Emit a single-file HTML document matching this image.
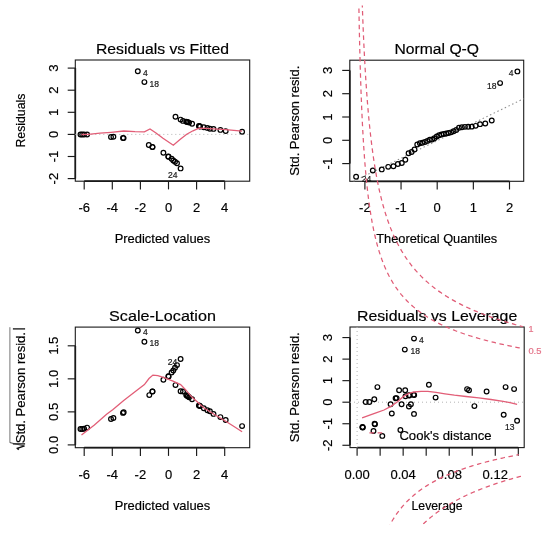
<!DOCTYPE html>
<html lang="en">
<head>
<meta charset="utf-8">
<title>Diagnostic plots</title>
<style>html,body{margin:0;padding:0;background:#fff}svg{display:block}</style>
</head>
<body>
<svg width="550" height="533" viewBox="0 0 550 533" font-family="'Liberation Sans', Arial, Helvetica, sans-serif">
<rect width="550" height="533" fill="#fff"/>
<g id="p1">
<rect x="75.3" y="60" width="174.4" height="121.2" fill="none" stroke="#1a1a1a" stroke-width="1.1"/>
<line x1="84.2" y1="181.2" x2="224.7" y2="181.2" stroke="#1a1a1a" stroke-width="1.7"/>
<line x1="84.2" y1="181.2" x2="84.2" y2="189.4" stroke="#1a1a1a" stroke-width="1.15"/>
<line x1="112.3" y1="181.2" x2="112.3" y2="189.4" stroke="#1a1a1a" stroke-width="1.15"/>
<line x1="140.4" y1="181.2" x2="140.4" y2="189.4" stroke="#1a1a1a" stroke-width="1.15"/>
<line x1="168.5" y1="181.2" x2="168.5" y2="189.4" stroke="#1a1a1a" stroke-width="1.15"/>
<line x1="196.6" y1="181.2" x2="196.6" y2="189.4" stroke="#1a1a1a" stroke-width="1.15"/>
<line x1="224.7" y1="181.2" x2="224.7" y2="189.4" stroke="#1a1a1a" stroke-width="1.15"/>
<text x="84.2" y="212.3" font-size="13" text-anchor="middle" fill="#000" stroke="#000" stroke-width="0.18">-6</text>
<text x="112.3" y="212.3" font-size="13" text-anchor="middle" fill="#000" stroke="#000" stroke-width="0.18">-4</text>
<text x="140.4" y="212.3" font-size="13" text-anchor="middle" fill="#000" stroke="#000" stroke-width="0.18">-2</text>
<text x="168.5" y="212.3" font-size="13" text-anchor="middle" fill="#000" stroke="#000" stroke-width="0.18">0</text>
<text x="196.6" y="212.3" font-size="13" text-anchor="middle" fill="#000" stroke="#000" stroke-width="0.18">2</text>
<text x="224.7" y="212.3" font-size="13" text-anchor="middle" fill="#000" stroke="#000" stroke-width="0.18">4</text>
<line x1="75.3" y1="178.6" x2="75.3" y2="68.1" stroke="#1a1a1a" stroke-width="1.7"/>
<line x1="67.7" y1="178.6" x2="75.3" y2="178.6" stroke="#1a1a1a" stroke-width="1.15"/>
<line x1="67.7" y1="156.5" x2="75.3" y2="156.5" stroke="#1a1a1a" stroke-width="1.15"/>
<line x1="67.7" y1="134.4" x2="75.3" y2="134.4" stroke="#1a1a1a" stroke-width="1.15"/>
<line x1="67.7" y1="112.3" x2="75.3" y2="112.3" stroke="#1a1a1a" stroke-width="1.15"/>
<line x1="67.7" y1="90.2" x2="75.3" y2="90.2" stroke="#1a1a1a" stroke-width="1.15"/>
<line x1="67.7" y1="68.1" x2="75.3" y2="68.1" stroke="#1a1a1a" stroke-width="1.15"/>
<text x="57.6" y="178.6" font-size="13" text-anchor="middle" fill="#000" stroke="#000" stroke-width="0.18" transform="rotate(-90 57.6 178.6)">-2</text>
<text x="57.6" y="156.5" font-size="13" text-anchor="middle" fill="#000" stroke="#000" stroke-width="0.18" transform="rotate(-90 57.6 156.5)">-1</text>
<text x="57.6" y="134.4" font-size="13" text-anchor="middle" fill="#000" stroke="#000" stroke-width="0.18" transform="rotate(-90 57.6 134.4)">0</text>
<text x="57.6" y="112.3" font-size="13" text-anchor="middle" fill="#000" stroke="#000" stroke-width="0.18" transform="rotate(-90 57.6 112.3)">1</text>
<text x="57.6" y="90.2" font-size="13" text-anchor="middle" fill="#000" stroke="#000" stroke-width="0.18" transform="rotate(-90 57.6 90.2)">2</text>
<text x="57.6" y="68.1" font-size="13" text-anchor="middle" fill="#000" stroke="#000" stroke-width="0.18" transform="rotate(-90 57.6 68.1)">3</text>
<text x="162.5" y="54.1" font-size="15.3" text-anchor="middle" fill="#000" stroke="#000" stroke-width="0.18" textLength="133" lengthAdjust="spacingAndGlyphs">Residuals vs Fitted</text>
<text x="162.5" y="243.2" font-size="13" text-anchor="middle" fill="#000" stroke="#000" stroke-width="0.18" textLength="95.6" lengthAdjust="spacingAndGlyphs">Predicted values</text>
<text x="24.8" y="120.6" font-size="13" text-anchor="middle" fill="#000" stroke="#000" stroke-width="0.18" transform="rotate(-90 24.8 120.6)" textLength="54" lengthAdjust="spacingAndGlyphs">Residuals</text>
<line x1="75.3" y1="134.4" x2="249.7" y2="134.4" stroke="#b4b4b4" stroke-width="1" stroke-dasharray="1 3"/>
<g fill="none" stroke="#000" stroke-width="1.22">
<circle cx="80.5" cy="134.5" r="2.35"/>
<circle cx="82.2" cy="134.5" r="2.35"/>
<circle cx="84.1" cy="134.5" r="2.35"/>
<circle cx="87.1" cy="134.5" r="2.35"/>
<circle cx="111" cy="137" r="2.35"/>
<circle cx="113.4" cy="136.7" r="2.35"/>
<circle cx="123" cy="138" r="2.35"/>
<circle cx="123.6" cy="138.1" r="2.35"/>
<circle cx="137.8" cy="71.3" r="2.35"/>
<circle cx="144.4" cy="82.1" r="2.35"/>
<circle cx="148.8" cy="145" r="2.35"/>
<circle cx="152.5" cy="147.1" r="2.35"/>
<circle cx="152.4" cy="147" r="2.35"/>
<circle cx="163.4" cy="152.7" r="2.35"/>
<circle cx="168.5" cy="156.7" r="2.35"/>
<circle cx="168.3" cy="156.5" r="2.35"/>
<circle cx="171.6" cy="158.7" r="2.35"/>
<circle cx="173.3" cy="160.4" r="2.35"/>
<circle cx="175" cy="161.8" r="2.35"/>
<circle cx="177" cy="163.3" r="2.35"/>
<circle cx="180.6" cy="168.4" r="2.35"/>
<circle cx="175.5" cy="116.7" r="2.35"/>
<circle cx="180.6" cy="119.6" r="2.35"/>
<circle cx="183" cy="120.9" r="2.35"/>
<circle cx="186.2" cy="121.6" r="2.35"/>
<circle cx="187" cy="121.9" r="2.35"/>
<circle cx="187.9" cy="122.1" r="2.35"/>
<circle cx="189.1" cy="122.6" r="2.35"/>
<circle cx="192.1" cy="123.8" r="2.35"/>
<circle cx="198.9" cy="126" r="2.35"/>
<circle cx="200.1" cy="126.5" r="2.35"/>
<circle cx="203.8" cy="127.2" r="2.35"/>
<circle cx="207.4" cy="127.9" r="2.35"/>
<circle cx="209.9" cy="128.7" r="2.35"/>
<circle cx="213.5" cy="128.9" r="2.35"/>
<circle cx="220.4" cy="129.9" r="2.35"/>
<circle cx="225.7" cy="131.1" r="2.35"/>
<circle cx="242.1" cy="131.8" r="2.35"/>
<circle cx="199.5" cy="126.2" r="2.35"/>
</g>
<polyline points="81.5,134.5 88.3,134.4 100,133.2 111,132.3 123.7,131 135,131.6 144.4,131.8 150,128.9 156,133 163,138.2 173.3,145.2 180,139.5 186.7,134.3 193,130.8 198.9,128.2 206,128.4 213.5,128.9 225.7,129.6 242.1,131.1" fill="none" stroke="#E25E77" stroke-width="1.3"/>
<text x="142.9" y="75.8" font-size="9.4" text-anchor="start" fill="#1a1a1a" stroke="#1a1a1a" stroke-width="0.22" textLength="4.75" lengthAdjust="spacingAndGlyphs">4</text>
<text x="149.4" y="87" font-size="9.4" text-anchor="start" fill="#1a1a1a" stroke="#1a1a1a" stroke-width="0.22" textLength="9.5" lengthAdjust="spacingAndGlyphs">18</text>
<text x="172.75" y="177.6" font-size="9.4" text-anchor="middle" fill="#1a1a1a" stroke="#1a1a1a" stroke-width="0.22" textLength="9.5" lengthAdjust="spacingAndGlyphs">24</text>
</g>
<g id="p2">
<rect x="349.8" y="60.2" width="173.9" height="121.1" fill="none" stroke="#1a1a1a" stroke-width="1.1"/>
<line x1="364.9" y1="181.3" x2="509.5" y2="181.3" stroke="#1a1a1a" stroke-width="1.7"/>
<line x1="364.9" y1="181.3" x2="364.9" y2="189.5" stroke="#1a1a1a" stroke-width="1.15"/>
<line x1="401.05" y1="181.3" x2="401.05" y2="189.5" stroke="#1a1a1a" stroke-width="1.15"/>
<line x1="437.2" y1="181.3" x2="437.2" y2="189.5" stroke="#1a1a1a" stroke-width="1.15"/>
<line x1="473.35" y1="181.3" x2="473.35" y2="189.5" stroke="#1a1a1a" stroke-width="1.15"/>
<line x1="509.5" y1="181.3" x2="509.5" y2="189.5" stroke="#1a1a1a" stroke-width="1.15"/>
<text x="364.9" y="212.4" font-size="13" text-anchor="middle" fill="#000" stroke="#000" stroke-width="0.18">-2</text>
<text x="401.05" y="212.4" font-size="13" text-anchor="middle" fill="#000" stroke="#000" stroke-width="0.18">-1</text>
<text x="437.2" y="212.4" font-size="13" text-anchor="middle" fill="#000" stroke="#000" stroke-width="0.18">0</text>
<text x="473.35" y="212.4" font-size="13" text-anchor="middle" fill="#000" stroke="#000" stroke-width="0.18">1</text>
<text x="509.5" y="212.4" font-size="13" text-anchor="middle" fill="#000" stroke="#000" stroke-width="0.18">2</text>
<line x1="349.8" y1="163.6" x2="349.8" y2="70.4" stroke="#1a1a1a" stroke-width="1.7"/>
<line x1="342.2" y1="163.6" x2="349.8" y2="163.6" stroke="#1a1a1a" stroke-width="1.15"/>
<line x1="342.2" y1="140.3" x2="349.8" y2="140.3" stroke="#1a1a1a" stroke-width="1.15"/>
<line x1="342.2" y1="117" x2="349.8" y2="117" stroke="#1a1a1a" stroke-width="1.15"/>
<line x1="342.2" y1="93.7" x2="349.8" y2="93.7" stroke="#1a1a1a" stroke-width="1.15"/>
<line x1="342.2" y1="70.4" x2="349.8" y2="70.4" stroke="#1a1a1a" stroke-width="1.15"/>
<text x="332.1" y="163.6" font-size="13" text-anchor="middle" fill="#000" stroke="#000" stroke-width="0.18" transform="rotate(-90 332.1 163.6)">-1</text>
<text x="332.1" y="140.3" font-size="13" text-anchor="middle" fill="#000" stroke="#000" stroke-width="0.18" transform="rotate(-90 332.1 140.3)">0</text>
<text x="332.1" y="117" font-size="13" text-anchor="middle" fill="#000" stroke="#000" stroke-width="0.18" transform="rotate(-90 332.1 117)">1</text>
<text x="332.1" y="93.7" font-size="13" text-anchor="middle" fill="#000" stroke="#000" stroke-width="0.18" transform="rotate(-90 332.1 93.7)">2</text>
<text x="332.1" y="70.4" font-size="13" text-anchor="middle" fill="#000" stroke="#000" stroke-width="0.18" transform="rotate(-90 332.1 70.4)">3</text>
<text x="436.75" y="54.3" font-size="15.3" text-anchor="middle" fill="#000" stroke="#000" stroke-width="0.18" textLength="84.5" lengthAdjust="spacingAndGlyphs">Normal Q-Q</text>
<text x="436.75" y="243.3" font-size="13" text-anchor="middle" fill="#000" stroke="#000" stroke-width="0.18" textLength="121" lengthAdjust="spacingAndGlyphs">Theoretical Quantiles</text>
<text x="299.3" y="120.75" font-size="13" text-anchor="middle" fill="#000" stroke="#000" stroke-width="0.18" transform="rotate(-90 299.3 120.75)" textLength="110" lengthAdjust="spacingAndGlyphs">Std. Pearson resid.</text>
<line x1="353.5" y1="181.3" x2="523.7" y2="98.7" stroke="#8c8c8c" stroke-width="1.05" stroke-dasharray="1.5 2.6"/>
<g fill="none" stroke="#000" stroke-width="1.22">
<circle cx="356.1" cy="176.8" r="2.35"/>
<circle cx="372.81" cy="170.56" r="2.35"/>
<circle cx="381.76" cy="169.39" r="2.35"/>
<circle cx="388.22" cy="166.86" r="2.35"/>
<circle cx="393.43" cy="166.18" r="2.35"/>
<circle cx="397.86" cy="163.97" r="2.35"/>
<circle cx="401.78" cy="163.01" r="2.35"/>
<circle cx="405.32" cy="159.68" r="2.35"/>
<circle cx="408.58" cy="153.27" r="2.35"/>
<circle cx="411.63" cy="152.04" r="2.35"/>
<circle cx="414.51" cy="149.53" r="2.35"/>
<circle cx="417.26" cy="144.42" r="2.35"/>
<circle cx="419.89" cy="143.26" r="2.35"/>
<circle cx="422.44" cy="142.7" r="2.35"/>
<circle cx="424.93" cy="141.97" r="2.35"/>
<circle cx="427.35" cy="140.9" r="2.35"/>
<circle cx="429.74" cy="139.75" r="2.35"/>
<circle cx="432.09" cy="139.45" r="2.35"/>
<circle cx="434.42" cy="138.24" r="2.35"/>
<circle cx="436.75" cy="136.43" r="2.35"/>
<circle cx="439.08" cy="135.28" r="2.35"/>
<circle cx="441.41" cy="134.53" r="2.35"/>
<circle cx="443.76" cy="133.97" r="2.35"/>
<circle cx="446.15" cy="133.48" r="2.35"/>
<circle cx="448.57" cy="133" r="2.35"/>
<circle cx="451.06" cy="132.34" r="2.35"/>
<circle cx="453.61" cy="131.3" r="2.35"/>
<circle cx="456.24" cy="130.07" r="2.35"/>
<circle cx="458.99" cy="127.74" r="2.35"/>
<circle cx="461.87" cy="127.2" r="2.35"/>
<circle cx="464.92" cy="126.86" r="2.35"/>
<circle cx="468.18" cy="126.76" r="2.35"/>
<circle cx="471.72" cy="126.63" r="2.35"/>
<circle cx="475.64" cy="125.86" r="2.35"/>
<circle cx="480.07" cy="124.15" r="2.35"/>
<circle cx="485.28" cy="123.53" r="2.35"/>
<circle cx="491.74" cy="120.43" r="2.35"/>
<circle cx="500.1" cy="83.1" r="2.35"/>
<circle cx="517.4" cy="71.4" r="2.35"/>
</g>
<text x="513.5" y="76.2" font-size="9.4" text-anchor="end" fill="#1a1a1a" stroke="#1a1a1a" stroke-width="0.22" textLength="4.75" lengthAdjust="spacingAndGlyphs">4</text>
<text x="496.6" y="88.6" font-size="9.4" text-anchor="end" fill="#1a1a1a" stroke="#1a1a1a" stroke-width="0.22" textLength="9.5" lengthAdjust="spacingAndGlyphs">18</text>
<text x="361.8" y="182.2" font-size="9.4" text-anchor="start" fill="#1a1a1a" stroke="#1a1a1a" stroke-width="0.22" textLength="9.5" lengthAdjust="spacingAndGlyphs">24</text>
</g>
<g id="p3">
<rect x="75.3" y="327.1" width="174.4" height="120.6" fill="none" stroke="#1a1a1a" stroke-width="1.1"/>
<line x1="84.2" y1="447.7" x2="224.7" y2="447.7" stroke="#1a1a1a" stroke-width="1.7"/>
<line x1="84.2" y1="447.7" x2="84.2" y2="455.9" stroke="#1a1a1a" stroke-width="1.15"/>
<line x1="112.3" y1="447.7" x2="112.3" y2="455.9" stroke="#1a1a1a" stroke-width="1.15"/>
<line x1="140.4" y1="447.7" x2="140.4" y2="455.9" stroke="#1a1a1a" stroke-width="1.15"/>
<line x1="168.5" y1="447.7" x2="168.5" y2="455.9" stroke="#1a1a1a" stroke-width="1.15"/>
<line x1="196.6" y1="447.7" x2="196.6" y2="455.9" stroke="#1a1a1a" stroke-width="1.15"/>
<line x1="224.7" y1="447.7" x2="224.7" y2="455.9" stroke="#1a1a1a" stroke-width="1.15"/>
<text x="84.2" y="478.8" font-size="13" text-anchor="middle" fill="#000" stroke="#000" stroke-width="0.18">-6</text>
<text x="112.3" y="478.8" font-size="13" text-anchor="middle" fill="#000" stroke="#000" stroke-width="0.18">-4</text>
<text x="140.4" y="478.8" font-size="13" text-anchor="middle" fill="#000" stroke="#000" stroke-width="0.18">-2</text>
<text x="168.5" y="478.8" font-size="13" text-anchor="middle" fill="#000" stroke="#000" stroke-width="0.18">0</text>
<text x="196.6" y="478.8" font-size="13" text-anchor="middle" fill="#000" stroke="#000" stroke-width="0.18">2</text>
<text x="224.7" y="478.8" font-size="13" text-anchor="middle" fill="#000" stroke="#000" stroke-width="0.18">4</text>
<line x1="75.3" y1="444.9" x2="75.3" y2="345.81" stroke="#1a1a1a" stroke-width="1.7"/>
<line x1="67.7" y1="444.9" x2="75.3" y2="444.9" stroke="#1a1a1a" stroke-width="1.15"/>
<line x1="67.7" y1="411.87" x2="75.3" y2="411.87" stroke="#1a1a1a" stroke-width="1.15"/>
<line x1="67.7" y1="378.84" x2="75.3" y2="378.84" stroke="#1a1a1a" stroke-width="1.15"/>
<line x1="67.7" y1="345.81" x2="75.3" y2="345.81" stroke="#1a1a1a" stroke-width="1.15"/>
<text x="57.6" y="444.9" font-size="13" text-anchor="middle" fill="#000" stroke="#000" stroke-width="0.18" transform="rotate(-90 57.6 444.9)">0.0</text>
<text x="57.6" y="411.87" font-size="13" text-anchor="middle" fill="#000" stroke="#000" stroke-width="0.18" transform="rotate(-90 57.6 411.87)">0.5</text>
<text x="57.6" y="378.84" font-size="13" text-anchor="middle" fill="#000" stroke="#000" stroke-width="0.18" transform="rotate(-90 57.6 378.84)">1.0</text>
<text x="57.6" y="345.81" font-size="13" text-anchor="middle" fill="#000" stroke="#000" stroke-width="0.18" transform="rotate(-90 57.6 345.81)">1.5</text>
<text x="162.5" y="321.2" font-size="15.3" text-anchor="middle" fill="#000" stroke="#000" stroke-width="0.18" textLength="106.8" lengthAdjust="spacingAndGlyphs">Scale-Location</text>
<text x="162.5" y="509.7" font-size="13" text-anchor="middle" fill="#000" stroke="#000" stroke-width="0.18" textLength="95.6" lengthAdjust="spacingAndGlyphs">Predicted values</text>
<text x="25.5" y="443.3" font-size="13" text-anchor="start" fill="#000" stroke="#000" stroke-width="0.18" transform="rotate(-90 25.5 443.3)" textLength="111.3" lengthAdjust="spacingAndGlyphs">Std. Pearson resid.</text>
<text x="22.3" y="443.9" font-size="13" text-anchor="middle" fill="#000" stroke="#000" stroke-width="0.18" transform="rotate(-90 22.3 443.9)">|</text>
<text x="22.3" y="328.7" font-size="13" text-anchor="middle" fill="#000" stroke="#000" stroke-width="0.18" transform="rotate(-90 22.3 328.7)">|</text>
<polyline points="9.9,442.7 9.9,327.2" fill="none" stroke="#777" stroke-width="1.0"/>
<polyline points="24.4,446 9.9,442.6" fill="none" stroke="#333" stroke-width="0.9"/>
<polyline points="18.7,449.7 17.4,448.3 24.5,445.9" fill="none" stroke="#111" stroke-width="1.5"/>
<g fill="none" stroke="#000" stroke-width="1.22">
<circle cx="80.5" cy="429" r="2.35"/>
<circle cx="82.2" cy="429" r="2.35"/>
<circle cx="84.1" cy="428.8" r="2.35"/>
<circle cx="87.1" cy="427.6" r="2.35"/>
<circle cx="111" cy="419" r="2.35"/>
<circle cx="113.4" cy="418" r="2.35"/>
<circle cx="123" cy="412.9" r="2.35"/>
<circle cx="123.7" cy="412.2" r="2.35"/>
<circle cx="137.8" cy="330.5" r="2.35"/>
<circle cx="144.4" cy="341.7" r="2.35"/>
<circle cx="149.3" cy="395.1" r="2.35"/>
<circle cx="152.5" cy="391.4" r="2.35"/>
<circle cx="152.4" cy="391.5" r="2.35"/>
<circle cx="163.4" cy="379.8" r="2.35"/>
<circle cx="168.6" cy="376.4" r="2.35"/>
<circle cx="168.4" cy="376.3" r="2.35"/>
<circle cx="171.6" cy="372.4" r="2.35"/>
<circle cx="173.3" cy="370.5" r="2.35"/>
<circle cx="175" cy="367.8" r="2.35"/>
<circle cx="177" cy="365.1" r="2.35"/>
<circle cx="180.6" cy="359" r="2.35"/>
<circle cx="175.5" cy="385.1" r="2.35"/>
<circle cx="180.6" cy="391.2" r="2.35"/>
<circle cx="183" cy="391.5" r="2.35"/>
<circle cx="186.2" cy="395.1" r="2.35"/>
<circle cx="187" cy="395.7" r="2.35"/>
<circle cx="187.9" cy="396.3" r="2.35"/>
<circle cx="189.1" cy="397.3" r="2.35"/>
<circle cx="192.1" cy="399.3" r="2.35"/>
<circle cx="198.9" cy="405.4" r="2.35"/>
<circle cx="200.1" cy="406.1" r="2.35"/>
<circle cx="203.8" cy="408.3" r="2.35"/>
<circle cx="207.4" cy="410.2" r="2.35"/>
<circle cx="209.9" cy="411.2" r="2.35"/>
<circle cx="213.5" cy="413.9" r="2.35"/>
<circle cx="220.4" cy="417.1" r="2.35"/>
<circle cx="225.7" cy="420" r="2.35"/>
<circle cx="242.1" cy="426.1" r="2.35"/>
<circle cx="199.5" cy="405.8" r="2.35"/>
</g>
<polyline points="81.5,435.1 94.4,424.9 106.6,414.2 113,409.5 123.7,400.5 135,391.8 144.4,384.6 149,378.5 152.9,375.1 157.8,375.6 164.8,377.8 173,381.2 180.6,384.6 186,390.2 191.6,396.8 198,402.6 203.8,407.8 214,414.3 225.7,421.2 234,426.5 242.1,431.7" fill="none" stroke="#E25E77" stroke-width="1.3"/>
<text x="142.9" y="335.1" font-size="9.4" text-anchor="start" fill="#1a1a1a" stroke="#1a1a1a" stroke-width="0.22" textLength="4.75" lengthAdjust="spacingAndGlyphs">4</text>
<text x="149.4" y="346.4" font-size="9.4" text-anchor="start" fill="#1a1a1a" stroke="#1a1a1a" stroke-width="0.22" textLength="9.5" lengthAdjust="spacingAndGlyphs">18</text>
<text x="172.4" y="365" font-size="9.4" text-anchor="middle" fill="#1a1a1a" stroke="#1a1a1a" stroke-width="0.22" textLength="9.5" lengthAdjust="spacingAndGlyphs">24</text>
</g>
<g id="p4">
<rect x="350" y="327" width="174.2" height="120.6" fill="none" stroke="#1a1a1a" stroke-width="1.1"/>
<line x1="357.1" y1="447.6" x2="518.31" y2="447.6" stroke="#1a1a1a" stroke-width="1.7"/>
<line x1="357.1" y1="447.6" x2="357.1" y2="455.8" stroke="#1a1a1a" stroke-width="1.15"/>
<line x1="380.13" y1="447.6" x2="380.13" y2="455.8" stroke="#1a1a1a" stroke-width="1.15"/>
<line x1="403.16" y1="447.6" x2="403.16" y2="455.8" stroke="#1a1a1a" stroke-width="1.15"/>
<line x1="426.19" y1="447.6" x2="426.19" y2="455.8" stroke="#1a1a1a" stroke-width="1.15"/>
<line x1="449.22" y1="447.6" x2="449.22" y2="455.8" stroke="#1a1a1a" stroke-width="1.15"/>
<line x1="472.25" y1="447.6" x2="472.25" y2="455.8" stroke="#1a1a1a" stroke-width="1.15"/>
<line x1="495.28" y1="447.6" x2="495.28" y2="455.8" stroke="#1a1a1a" stroke-width="1.15"/>
<line x1="518.31" y1="447.6" x2="518.31" y2="455.8" stroke="#1a1a1a" stroke-width="1.15"/>
<text x="357.1" y="478.7" font-size="13" text-anchor="middle" fill="#000" stroke="#000" stroke-width="0.18">0.00</text>
<text x="403.16" y="478.7" font-size="13" text-anchor="middle" fill="#000" stroke="#000" stroke-width="0.18">0.04</text>
<text x="449.22" y="478.7" font-size="13" text-anchor="middle" fill="#000" stroke="#000" stroke-width="0.18">0.08</text>
<text x="495.28" y="478.7" font-size="13" text-anchor="middle" fill="#000" stroke="#000" stroke-width="0.18">0.12</text>
<line x1="350" y1="445.28" x2="350" y2="337.58" stroke="#1a1a1a" stroke-width="1.7"/>
<line x1="342.4" y1="445.28" x2="350" y2="445.28" stroke="#1a1a1a" stroke-width="1.15"/>
<line x1="342.4" y1="423.74" x2="350" y2="423.74" stroke="#1a1a1a" stroke-width="1.15"/>
<line x1="342.4" y1="402.2" x2="350" y2="402.2" stroke="#1a1a1a" stroke-width="1.15"/>
<line x1="342.4" y1="380.66" x2="350" y2="380.66" stroke="#1a1a1a" stroke-width="1.15"/>
<line x1="342.4" y1="359.12" x2="350" y2="359.12" stroke="#1a1a1a" stroke-width="1.15"/>
<line x1="342.4" y1="337.58" x2="350" y2="337.58" stroke="#1a1a1a" stroke-width="1.15"/>
<text x="332.3" y="445.28" font-size="13" text-anchor="middle" fill="#000" stroke="#000" stroke-width="0.18" transform="rotate(-90 332.3 445.28)">-2</text>
<text x="332.3" y="423.74" font-size="13" text-anchor="middle" fill="#000" stroke="#000" stroke-width="0.18" transform="rotate(-90 332.3 423.74)">-1</text>
<text x="332.3" y="402.2" font-size="13" text-anchor="middle" fill="#000" stroke="#000" stroke-width="0.18" transform="rotate(-90 332.3 402.2)">0</text>
<text x="332.3" y="380.66" font-size="13" text-anchor="middle" fill="#000" stroke="#000" stroke-width="0.18" transform="rotate(-90 332.3 380.66)">1</text>
<text x="332.3" y="359.12" font-size="13" text-anchor="middle" fill="#000" stroke="#000" stroke-width="0.18" transform="rotate(-90 332.3 359.12)">2</text>
<text x="332.3" y="337.58" font-size="13" text-anchor="middle" fill="#000" stroke="#000" stroke-width="0.18" transform="rotate(-90 332.3 337.58)">3</text>
<text x="437.1" y="321.1" font-size="15.3" text-anchor="middle" fill="#000" stroke="#000" stroke-width="0.18" textLength="160.3" lengthAdjust="spacingAndGlyphs">Residuals vs Leverage</text>
<text x="437.1" y="509.6" font-size="13" text-anchor="middle" fill="#000" stroke="#000" stroke-width="0.18" textLength="51.2" lengthAdjust="spacingAndGlyphs">Leverage</text>
<text x="299.5" y="387.3" font-size="13" text-anchor="middle" fill="#000" stroke="#000" stroke-width="0.18" transform="rotate(-90 299.5 387.3)" textLength="110" lengthAdjust="spacingAndGlyphs">Std. Pearson resid.</text>
<line x1="350" y1="402.2" x2="524.2" y2="402.2" stroke="#b4b4b4" stroke-width="1" stroke-dasharray="1 3"/>
<line x1="357.1" y1="327" x2="357.1" y2="447.6" stroke="#b4b4b4" stroke-width="1" stroke-dasharray="1 3"/>
<g fill="none" stroke="#000" stroke-width="1.22">
<circle cx="414" cy="338.6" r="2.35"/>
<circle cx="404.8" cy="349.6" r="2.35"/>
<circle cx="377.4" cy="387.1" r="2.35"/>
<circle cx="399.1" cy="390.3" r="2.35"/>
<circle cx="405.2" cy="390.3" r="2.35"/>
<circle cx="428.9" cy="384.7" r="2.35"/>
<circle cx="405.5" cy="396.2" r="2.35"/>
<circle cx="408.9" cy="395.2" r="2.35"/>
<circle cx="409.4" cy="395.6" r="2.35"/>
<circle cx="413.6" cy="394.8" r="2.35"/>
<circle cx="414.2" cy="395.1" r="2.35"/>
<circle cx="395.6" cy="398.3" r="2.35"/>
<circle cx="396.6" cy="398.1" r="2.35"/>
<circle cx="435.6" cy="397.6" r="2.35"/>
<circle cx="365.7" cy="402" r="2.35"/>
<circle cx="369.4" cy="402" r="2.35"/>
<circle cx="374.3" cy="399.3" r="2.35"/>
<circle cx="390.6" cy="404.2" r="2.35"/>
<circle cx="401.6" cy="404.2" r="2.35"/>
<circle cx="410.9" cy="404.2" r="2.35"/>
<circle cx="408.9" cy="406.6" r="2.35"/>
<circle cx="391.8" cy="413.5" r="2.35"/>
<circle cx="414" cy="413.9" r="2.35"/>
<circle cx="374.6" cy="423.8" r="2.35"/>
<circle cx="375" cy="424.3" r="2.35"/>
<circle cx="362.4" cy="427.2" r="2.35"/>
<circle cx="362.8" cy="427.6" r="2.35"/>
<circle cx="362.6" cy="427" r="2.35"/>
<circle cx="373.5" cy="431" r="2.35"/>
<circle cx="382.3" cy="435.9" r="2.35"/>
<circle cx="400.4" cy="430" r="2.35"/>
<circle cx="467.1" cy="389.1" r="2.35"/>
<circle cx="469" cy="390.3" r="2.35"/>
<circle cx="486.6" cy="391.5" r="2.35"/>
<circle cx="474.4" cy="406.1" r="2.35"/>
<circle cx="505.6" cy="387.1" r="2.35"/>
<circle cx="514.1" cy="389.1" r="2.35"/>
<circle cx="503.7" cy="414.7" r="2.35"/>
<circle cx="517.1" cy="420.8" r="2.35"/>
</g>
<polyline points="362.1,417.9 369,415.4 376.7,412.7 384,410 391.3,406.1 397.5,401.8 403.5,396.4 408.5,393.6 414,392 421,391.4 427.9,391.3 436,392.3 445,393.8 454.4,395.2 466,396.5 478.8,397.8 491,399.5 503.2,401.3 510,402.7 517.1,404.4" fill="none" stroke="#E25E77" stroke-width="1.3"/>
<text x="419" y="343.1" font-size="9.4" text-anchor="start" fill="#1a1a1a" stroke="#1a1a1a" stroke-width="0.22" textLength="4.75" lengthAdjust="spacingAndGlyphs">4</text>
<text x="410.5" y="354.4" font-size="9.4" text-anchor="start" fill="#1a1a1a" stroke="#1a1a1a" stroke-width="0.22" textLength="9.5" lengthAdjust="spacingAndGlyphs">18</text>
<text x="514.4" y="430.2" font-size="9.4" text-anchor="end" fill="#1a1a1a" stroke="#1a1a1a" stroke-width="0.22" textLength="9.5" lengthAdjust="spacingAndGlyphs">13</text>
<line x1="369.4" y1="432.8" x2="382.6" y2="432.8" stroke="#E05C76" stroke-width="1.25" stroke-dasharray="4.6 3.6"/>
<text x="399.4" y="439.6" font-size="13" text-anchor="start" fill="#000" stroke="#000" stroke-width="0.18" textLength="92.3" lengthAdjust="spacingAndGlyphs">Cook's distance</text>
</g>
<clipPath id="dev"><rect x="0" y="5.4" width="550" height="518.9"/></clipPath>
<g clip-path="url(#dev)">
<polyline points="358.29,-32.02 358.45,-20.42 358.61,-9.7 358.77,0.24 358.93,9.5 359.09,18.15 359.25,26.25 359.41,33.86 359.57,41.02 359.74,47.79 359.9,54.18 360.06,60.25 360.22,66.01 360.38,71.49 360.54,76.71 360.7,81.69 360.86,86.45 361.02,91 361.18,95.36 361.34,99.55 361.5,103.57 361.66,107.43 361.83,111.15 361.99,114.73 362.15,118.18 362.31,121.52 362.47,124.73 362.63,127.84 362.79,130.85 362.95,133.76 363.11,136.58 363.27,139.32 363.43,141.97 363.59,144.54 363.75,147.04 363.91,149.47 364.08,151.83 364.24,154.13 364.4,156.36 364.56,158.53 364.72,160.65 364.88,162.72 365.04,164.73 365.2,166.69 365.36,168.61 365.52,170.48 365.68,172.31 365.84,174.09 366,175.83 366.17,177.54 366.33,179.21 366.49,180.84 366.65,182.43 366.81,183.99 366.97,185.52 367.13,187.02 367.29,188.49 367.45,189.93 367.61,191.34 367.77,192.72 367.93,194.07 368.09,195.4 368.25,196.71 368.42,197.99 368.58,199.25 368.74,200.48 368.9,201.69 369.06,202.89 369.22,204.06 369.38,205.21 370.77,214.38 372.15,222.39 373.54,229.46 374.93,235.77 376.32,241.45 377.7,246.59 379.09,251.28 380.48,255.57 381.87,259.53 383.25,263.19 384.64,266.58 386.03,269.75 387.42,272.71 388.8,275.48 390.19,278.09 391.58,280.54 392.96,282.87 394.35,285.06 395.74,287.15 397.13,289.13 398.51,291.02 399.9,292.81 401.29,294.53 402.68,296.17 404.06,297.75 405.45,299.25 406.84,300.7 408.23,302.09 409.61,303.43 411,304.72 412.39,305.96 413.77,307.15 415.16,308.31 416.55,309.43 417.94,310.51 419.32,311.55 420.71,312.57 422.1,313.55 423.49,314.5 424.87,315.43 426.26,316.32 427.65,317.2 429.04,318.04 430.42,318.87 431.81,319.67 433.2,320.45 434.58,321.21 435.97,321.96 437.36,322.68 438.75,323.39 440.13,324.08 441.52,324.75 442.91,325.41 444.3,326.05 445.68,326.68 447.07,327.29 448.46,327.89 449.85,328.48 451.23,329.05 452.62,329.62 454.01,330.17 455.4,330.71 456.78,331.24 458.17,331.76 459.56,332.27 460.94,332.77 462.33,333.26 463.72,333.74 465.11,334.21 466.49,334.67 467.88,335.13 469.27,335.57 470.66,336.01 472.04,336.44 473.43,336.87 474.82,337.29 476.21,337.7 477.59,338.1 478.98,338.5 480.37,338.89 481.75,339.27 483.14,339.65 484.53,340.02 485.92,340.39 487.3,340.75 488.69,341.11 490.08,341.46 491.47,341.8 492.85,342.14 494.24,342.48 495.63,342.81 497.02,343.13 498.4,343.46 499.79,343.77 501.18,344.09 502.56,344.39 503.95,344.7 505.34,345 506.73,345.3 508.11,345.59 509.5,345.88 510.89,346.16 512.28,346.44 513.66,346.72 515.05,347 516.44,347.27 517.83,347.54 519.21,347.8 520.6,348.06" fill="none" stroke="#E05C76" stroke-width="1.25" stroke-dasharray="4.5 3.6"/>
<polyline points="374.86,566.91 376.23,561.27 377.6,556.16 378.98,551.49 380.35,547.22 381.72,543.28 383.09,539.63 384.46,536.25 385.83,533.09 387.2,530.14 388.57,527.37 389.94,524.77 391.31,522.31 392.68,519.99 394.05,517.8 395.43,515.71 396.8,513.73 398.17,511.85 399.54,510.05 400.91,508.33 402.28,506.69 403.65,505.12 405.02,503.61 406.39,502.16 407.76,500.77 409.13,499.43 410.5,498.14 411.88,496.9 413.25,495.7 414.62,494.54 415.99,493.42 417.36,492.34 418.73,491.29 420.1,490.27 421.47,489.29 422.84,488.34 424.21,487.41 425.58,486.51 426.95,485.64 428.33,484.79 429.7,483.96 431.07,483.16 432.44,482.37 433.81,481.61 435.18,480.86 436.55,480.14 437.92,479.43 439.29,478.74 440.66,478.07 442.03,477.41 443.4,476.76 444.78,476.13 446.15,475.52 447.52,474.92 448.89,474.33 450.26,473.75 451.63,473.18 453,472.63 454.37,472.09 455.74,471.56 457.11,471.04 458.48,470.53 459.85,470.03 461.23,469.53 462.6,469.05 463.97,468.58 465.34,468.11 466.71,467.66 468.08,467.21 469.45,466.77 470.82,466.34 472.19,465.91 473.56,465.49 474.93,465.08 476.3,464.68 477.68,464.28 479.05,463.88 480.42,463.5 481.79,463.12 483.16,462.75 484.53,462.38 485.9,462.02 487.27,461.66 488.64,461.31 490.01,460.96 491.38,460.62 492.75,460.28 494.13,459.95 495.5,459.62 496.87,459.3 498.24,458.98 499.61,458.67 500.98,458.36 502.35,458.05 503.72,457.75 505.09,457.45 506.46,457.16 507.83,456.87 509.2,456.58 510.58,456.3 511.95,456.02 513.32,455.75 514.69,455.47 516.06,455.21 517.43,454.94 518.8,454.68" fill="none" stroke="#E05C76" stroke-width="1.25" stroke-dasharray="4.5 3.6"/>
<polyline points="361.02,-37.49 361.18,-31.32 361.34,-25.4 361.5,-19.71 361.66,-14.25 361.83,-8.99 361.99,-3.93 362.15,0.96 362.31,5.67 362.47,10.22 362.63,14.62 362.79,18.87 362.95,22.99 363.11,26.98 363.27,30.84 363.43,34.59 363.59,38.23 363.75,41.77 363.91,45.2 364.08,48.54 364.24,51.78 364.4,54.94 364.56,58.02 364.72,61.02 364.88,63.94 365.04,66.78 365.2,69.56 365.36,72.27 365.52,74.91 365.68,77.5 365.84,80.02 366,82.49 366.17,84.9 366.33,87.25 366.49,89.56 366.65,91.82 366.81,94.02 366.97,96.19 367.13,98.3 367.29,100.38 367.45,102.41 367.61,104.41 367.77,106.36 367.93,108.28 368.09,110.16 368.25,112.01 368.42,113.82 368.58,115.6 368.74,117.34 368.9,119.06 369.06,120.74 369.22,122.4 369.38,124.02 370.79,137.17 372.2,148.63 373.6,158.74 375.01,167.74 376.42,175.83 377.83,183.16 379.23,189.82 380.64,195.93 382.05,201.55 383.46,206.74 384.86,211.56 386.27,216.05 387.68,220.24 389.09,224.17 390.49,227.87 391.9,231.35 393.31,234.64 394.72,237.75 396.12,240.7 397.53,243.5 398.94,246.17 400.35,248.71 401.75,251.14 403.16,253.46 404.57,255.68 405.98,257.81 407.38,259.85 408.79,261.82 410.2,263.71 411.61,265.52 413.01,267.28 414.42,268.97 415.83,270.6 417.24,272.18 418.64,273.7 420.05,275.18 421.46,276.61 422.87,277.99 424.27,279.34 425.68,280.64 427.09,281.91 428.5,283.14 429.9,284.33 431.31,285.5 432.72,286.63 434.13,287.73 435.53,288.8 436.94,289.85 438.35,290.87 439.76,291.87 441.16,292.84 442.57,293.79 443.98,294.71 445.39,295.62 446.79,296.5 448.2,297.37 449.61,298.21 451.02,299.04 452.42,299.85 453.83,300.65 455.24,301.42 456.65,302.19 458.05,302.93 459.46,303.66 460.87,304.38 462.28,305.08 463.68,305.77 465.09,306.45 466.5,307.12 467.91,307.77 469.31,308.41 470.72,309.04 472.13,309.66 473.54,310.27 474.94,310.86 476.35,311.45 477.76,312.03 479.17,312.6 480.57,313.16 481.98,313.71 483.39,314.25 484.8,314.78 486.2,315.31 487.61,315.82 489.02,316.33 490.43,316.83 491.83,317.33 493.24,317.81 494.65,318.29 496.06,318.77 497.46,319.23 498.87,319.69 500.28,320.14 501.69,320.59 503.09,321.03 504.5,321.46 505.91,321.89 507.32,322.32 508.72,322.73 510.13,323.15 511.54,323.55 512.95,323.95 514.35,324.35 515.76,324.74 517.17,325.13 518.58,325.51 519.98,325.89 521.39,326.26 522.8,326.63" fill="none" stroke="#E05C76" stroke-width="1.25" stroke-dasharray="4.5 3.6"/>
<polyline points="392.02,570.77 393.43,567.48 394.85,564.37 396.26,561.42 397.68,558.62 399.09,555.95 400.51,553.41 401.92,550.98 403.34,548.66 404.75,546.44 406.17,544.31 407.58,542.27 409,540.3 410.41,538.42 411.83,536.6 413.24,534.85 414.66,533.16 416.07,531.53 417.49,529.95 418.9,528.43 420.32,526.95 421.73,525.52 423.14,524.14 424.56,522.8 425.97,521.49 427.39,520.23 428.8,519 430.22,517.8 431.63,516.64 433.05,515.51 434.46,514.41 435.88,513.34 437.29,512.29 438.71,511.27 440.12,510.28 441.54,509.31 442.95,508.36 444.37,507.43 445.78,506.53 447.2,505.65 448.61,504.78 450.03,503.94 451.44,503.11 452.86,502.3 454.27,501.51 455.69,500.73 457.1,499.97 458.52,499.23 459.93,498.5 461.35,497.78 462.76,497.08 464.18,496.39 465.59,495.71 467.01,495.05 468.42,494.4 469.84,493.76 471.25,493.13 472.66,492.51 474.08,491.9 475.49,491.3 476.91,490.72 478.32,490.14 479.74,489.57 481.15,489.01 482.57,488.47 483.98,487.92 485.4,487.39 486.81,486.87 488.23,486.35 489.64,485.84 491.06,485.34 492.47,484.85 493.89,484.37 495.3,483.89 496.72,483.42 498.13,482.95 499.55,482.49 500.96,482.04 502.38,481.59 503.79,481.15 505.21,480.72 506.62,480.29 508.04,479.87 509.45,479.45 510.87,479.04 512.28,478.64 513.7,478.23 515.11,477.84 516.53,477.45 517.94,477.06 519.36,476.68 520.77,476.3 522.19,475.93 523.6,475.56" fill="none" stroke="#E05C76" stroke-width="1.25" stroke-dasharray="4.5 3.6"/>
</g>
<text x="528.4" y="332" font-size="9" text-anchor="start" fill="#E4758A" stroke="#E4758A" stroke-width="0.22">1</text>
<text x="528.4" y="354.4" font-size="9" text-anchor="start" fill="#E4758A" stroke="#E4758A" stroke-width="0.22" textLength="13" lengthAdjust="spacingAndGlyphs">0.5</text>
</svg>
</body>
</html>
